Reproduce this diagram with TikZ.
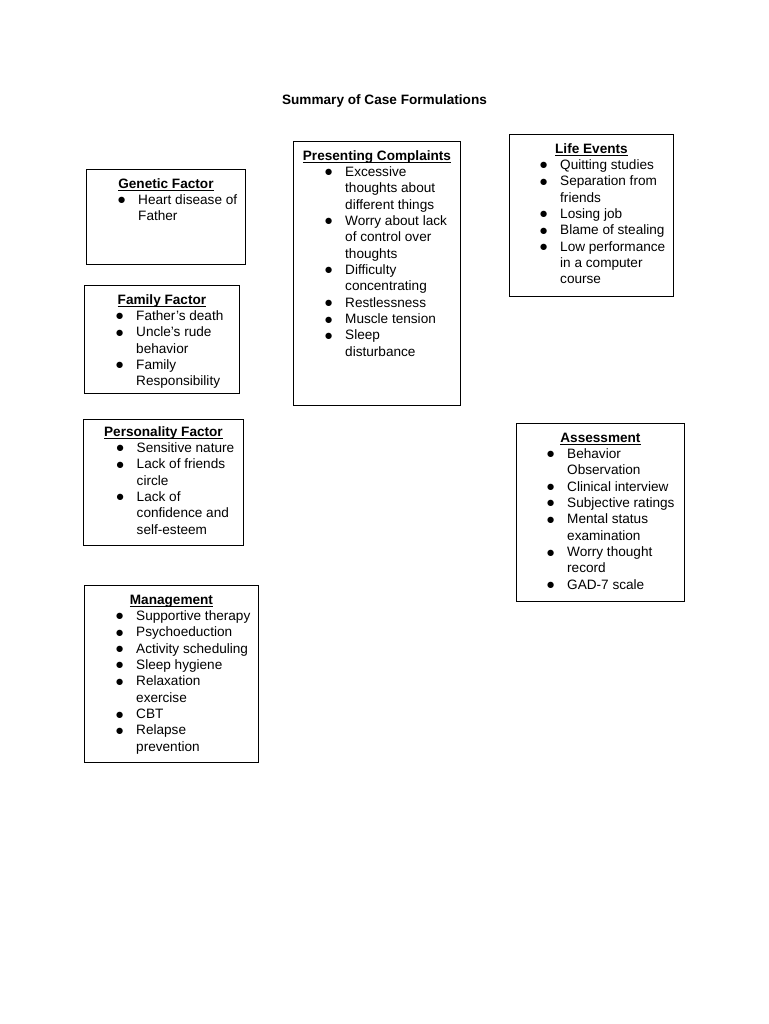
\documentclass[tikz,border=0pt]{standalone}
\usepackage{fontspec}
\setmainfont{Liberation Sans}
\newfontfamily\symfont{DejaVu Sans}
\usepackage{array}
\usetikzlibrary{calc}
% bullet, one bullet row, and the continuation of a row
\newcommand{\bul}{\hspace{1pt}\raisebox{1.6pt}{\symfont\fontsize{8.2}{8}\selectfont ●}}
\newcommand{\itm}[1]{\bul & #1\\}
\newcommand{\cnt}[1]{& #1\\}
% heading underline at a fixed depth
\newcommand{\hd}[1]{\setbox0\hbox{#1}\rlap{\rule[-2.2pt]{\wd0}{0.9pt}}\box0}

\begin{document}
\begin{tikzpicture}[x=1pt, y=-1pt, font=\fontsize{13.6}{16.35}\selectfont]
  \tikzstyle{box} = [rectangle, draw=black, line width=0.9pt, inner sep=0pt, anchor=north west]
  \tikzstyle{head} = [font=\fontsize{13.6}{16.35}\selectfont\bfseries, inner sep=0pt, anchor=base]
  \tikzstyle{items} = [inner sep=0pt, anchor=base west, align=left]

  \useasboundingbox (0,0) rectangle (768,1024);

  % Title
  \node (title) [head] at (384.5,104.5) {Summary of Case Formulations};

  % Boxes
  \node (genetic) [box, minimum width=159, minimum height=95] at (86,169) {};
  \node (family) [box, minimum width=155, minimum height=108] at (84,285) {};
  \node (person) [box, minimum width=160, minimum height=126] at (83,419) {};
  \node (manage) [box, minimum width=174, minimum height=177] at (84,585) {};
  \node (present) [box, minimum width=167, minimum height=264] at (293,141) {};
  \node (life) [box, minimum width=164, minimum height=162] at (509,134) {};
  \node (assess) [box, minimum width=168, minimum height=178] at (516,423) {};

  % Headings
  \node (genetich) [head] at ($(genetic.north)+(0,19.4)$) {\hd{Genetic Factor}};
  \node (familyh) [head] at ($(family.north)+(0,19.4)$) {\hd{Family Factor}};
  \node (personh) [head] at ($(person.north)+(0,17.4)$) {\hd{Personality Factor}};
  \node (manageh) [head] at ($(manage.north)+(0,19.4)$) {\hd{Management}};
  \node (presenth) [head] at ($(present.north)+(0,19.4)$) {\hd{Presenting Complaints}};
  \node (lifeh) [head] at ($(life.north)+(0,19.4)$) {\hd{Life Events}};
  \node (assessh) [head] at ($(assess.north)+(0,19.4)$) {\hd{Assessment}};

  % Lists
  \node (geneticl) [items] at ($(genetic.north west)+(31,35.5)$) {\begin{tabular}[t]{@{}p{21pt}@{}l@{}}
    \itm{Heart disease of} \cnt{Father}
  \end{tabular}};
  \node (familyl) [items] at ($(family.north west)+(31,35.5)$) {\begin{tabular}[t]{@{}p{21pt}@{}l@{}}
    \itm{Father’s death} \itm{Uncle’s rude} \cnt{behavior} \itm{Family} \cnt{Responsibility}
  \end{tabular}};
  \node (personl) [items] at ($(person.north west)+(32.5,33.5)$) {\begin{tabular}[t]{@{}p{21pt}@{}l@{}}
    \itm{Sensitive nature} \itm{Lack of friends} \cnt{circle} \itm{Lack of} \cnt{confidence and} \cnt{self-esteem}
  \end{tabular}};
  \node (managel) [items] at ($(manage.north west)+(31,35.5)$) {\begin{tabular}[t]{@{}p{21pt}@{}l@{}}
    \itm{Supportive therapy} \itm{Psychoeduction} \itm{Activity scheduling} \itm{Sleep hygiene}
    \itm{Relaxation} \cnt{exercise} \itm{CBT} \itm{Relapse} \cnt{prevention}
  \end{tabular}};
  \node (presentl) [items] at ($(present.north west)+(31,35.5)$) {\begin{tabular}[t]{@{}p{21pt}@{}l@{}}
    \itm{Excessive} \cnt{thoughts about} \cnt{different things} \itm{Worry about lack} \cnt{of control over}
    \cnt{thoughts} \itm{Difficulty} \cnt{concentrating} \itm{Restlessness} \itm{Muscle tension}
    \itm{Sleep} \cnt{disturbance}
  \end{tabular}};
  \node (lifel) [items] at ($(life.north west)+(30,35.5)$) {\begin{tabular}[t]{@{}p{21pt}@{}l@{}}
    \itm{Quitting studies} \itm{Separation from} \cnt{friends} \itm{Losing job} \itm{Blame of stealing}
    \itm{Low performance} \cnt{in a computer} \cnt{course}
  \end{tabular}};
  \node (assessl) [items] at ($(assess.north west)+(30,35.5)$) {\begin{tabular}[t]{@{}p{21pt}@{}l@{}}
    \itm{Behavior} \cnt{Observation} \itm{Clinical interview} \itm{Subjective ratings} \itm{Mental status}
    \cnt{examination} \itm{Worry thought} \cnt{record} \itm{GAD-7 scale}
  \end{tabular}};
\end{tikzpicture}
\end{document}
